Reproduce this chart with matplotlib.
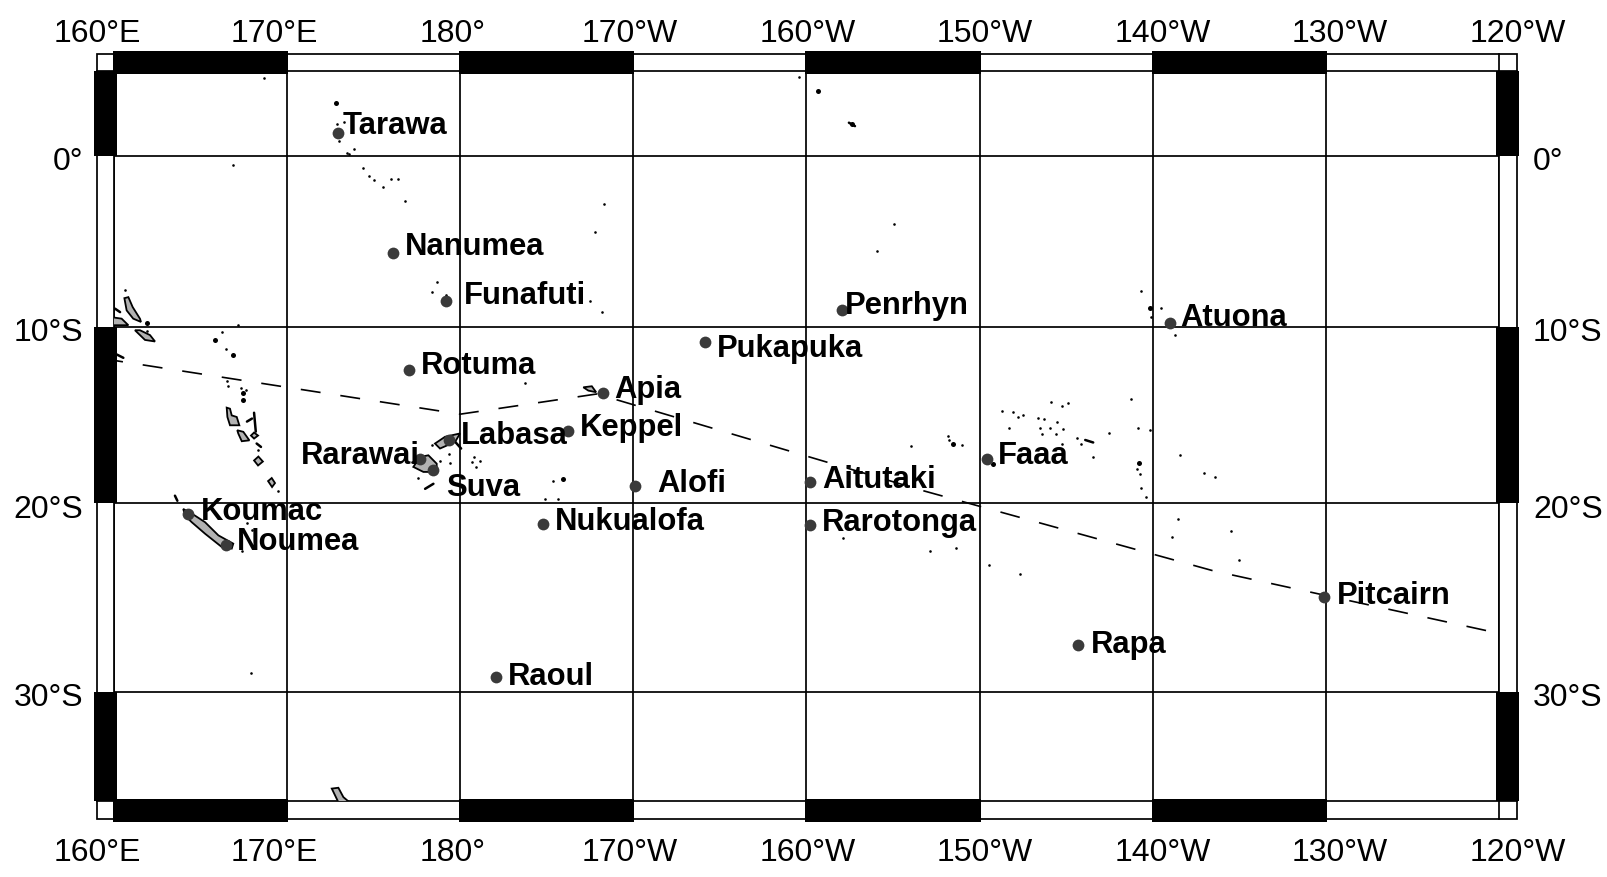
"""Station map of the south-west Pacific on a Mercator grid, GMT fancy frame style."""

import numpy as np
import matplotlib
matplotlib.use("Agg")
import matplotlib.pyplot as plt
from matplotlib.patches import Polygon, Rectangle

plt.rcParams["font.family"] = ["Liberation Sans", "DejaVu Sans"]
plt.rcParams["lines.scale_dashes"] = False

W, H = 1607, 878

# longitudes run 0..360 so the dateline stays in the middle
lon_ticks = [160, 170, 180, 190, 200, 210, 220, 230, 240]
lon_labels = ["160°E", "170°E", "180°", "170°W", "160°W", "150°W", "140°W", "130°W", "120°W"]
lat_ticks = [0, -10, -20, -30]
lat_labels = ["0°", "10°S", "20°S", "30°S"]
lon_min, lon_max = 160, 240
lat_min, lat_max = -35.4, 5.0

stations = ["Tarawa", "Nanumea", "Funafuti", "Rotuma", "Apia", "Keppel", "Labasa",
            "Rarawai", "Suva", "Alofi", "Nukualofa", "Koumac", "Noumea", "Raoul",
            "Penrhyn", "Pukapuka", "Atuona", "Aitutaki", "Rarotonga", "Faaa", "Rapa",
            "Pitcairn"]
station_lon = [172.92, 176.13, 179.20, 177.05, 188.22, 186.20, 179.33, 177.68, 178.43,
               190.08, 184.80, 164.29, 166.45, 182.08, 202.03, 194.15, 220.97, 200.23,
               200.20, 210.40, 215.67, 229.90]
station_lat = [1.35, -5.67, -8.52, -12.50, -13.80, -15.95, -16.47, -17.54, -18.13,
               -19.05, -21.13, -20.56, -22.27, -29.25, -9.00, -10.88, -9.80, -18.83,
               -21.20, -17.55, -27.60, -25.07]

# left end and baseline of each station name, in pixels
label_px = [(343, 134), (405, 255), (464, 304), (421, 374), (614, 398), (580, 436),
            (461, 444), (301, 464), (446, 496), (657, 492), (555, 530), (201, 520),
            (237, 550), (508, 685), (845, 314), (717, 357), (1180, 326), (822, 488),
            (822, 531), (998, 464), (1091, 653), (1337, 604)]

boundary_lon = [160.00, 180.00, 187.90, 206.80, 223.50, 231.34, 239.26]
boundary_lat = [-11.93, -15.00, -13.85, -19.31, -23.67, -25.26, -26.84]

small_lon = [168.68, 166.89, 172.88, 173.27, 173.02, 173.86, 173.44, 173.58, 174.40, 174.71,
             175.00, 175.54, 175.98, 176.42, 176.81, 178.66, 178.35, 179.18, 160.64, 167.18,
             161.92, 166.22, 166.47, 166.51, 166.60, 167.32, 167.63, 168.34, 169.49, 167.67,
             167.95, 169.75, 167.41, 167.91, 179.37, 179.41, 178.83, 180.66, 180.81, 181.14,
             180.91, 177.58, 178.35, 177.20, 183.76, 185.34, 184.88, 185.67, 190.09, 202.08,
             207.11, 208.61, 210.52, 212.31, 188.31, 187.79, 188.21, 205.04, 204.10, 187.50,
             199.57, 220.45, 219.91, 219.33, 221.31, 214.11, 214.78, 215.10, 218.75, 211.32,
             211.92, 212.50, 212.23, 213.36, 213.69, 214.49, 219.12, 219.85, 214.84, 213.50,
             214.06, 211.72, 213.63, 214.42, 217.48, 215.65, 215.87, 214.75, 216.54, 219.08,
             219.26, 221.58, 222.97, 223.60, 219.31, 219.60, 208.20, 208.25, 209.01, 206.04,
             221.43, 221.14, 224.51, 225.01]
small_lat = [4.57, -0.54, 1.87, 1.97, 0.90, 0.42, 0.19, 0.13, -0.69, -1.21,
             -1.42, -1.85, -1.33, -1.38, -2.64, -7.40, -7.98, -8.12, -7.87, -9.90,
             -10.24, -10.28, -11.26, -13.10, -13.38, -13.51, -13.64, -17.04, -19.29, -21.09,
             -21.47, -20.21, -22.60, -29.04, -17.26, -17.75, -17.64, -17.71, -17.41, -17.64,
             -17.97, -18.58, -16.76, -17.69, -13.24, -18.78, -19.76, -19.73, -19.07, -21.87,
             -22.60, -22.45, -23.35, -23.84, -2.85, -4.48, -9.13, -4.02, -5.59, -8.52,
             4.64, -8.88, -9.40, -7.94, -10.48, -14.30, -14.56, -14.35, -14.12, -14.82,
             -14.88, -15.05, -15.16, -15.21, -15.29, -15.42, -15.78, -15.91, -15.82, -15.78,
             -15.80, -15.80, -16.11, -16.14, -16.08, -16.32, -16.66, -16.70, -17.43, -18.11,
             -18.39, -17.30, -18.29, -18.52, -19.12, -19.66, -16.21, -16.48, -16.74, -16.78,
             -20.86, -21.85, -21.52, -23.09]

medium_lon = [161.92, 165.83, 166.86, 167.47, 167.47, 185.96, 200.65, 202.62, 219.85,
              210.78, 219.23, 208.49, 172.82]
medium_lat = [-9.77, -10.75, -11.61, -13.81, -14.22, -18.63, 3.83, 1.87, -8.88,
              -17.78, -17.75, -16.70, 3.08]

# narrow islands, just a thick stroke at this scale
slivers = [
    [(216.10, -16.46), (216.56, -16.60)],
    [(177.97, -19.19), (178.45, -18.91)],
    [(167.68, -15.42), (167.97, -15.25)],
    [(168.09, -14.92), (168.19, -15.99)],
    [(168.24, -16.66), (168.49, -16.85)],
    [(160.16, -11.59), (160.54, -11.78)],
    [(160.06, -8.94), (160.35, -9.14)],
    [(163.52, -19.57), (163.66, -19.85)],
    [(179.64, -16.49), (180.05, -16.94)],
    [(202.45, 1.95), (202.80, 1.75)],
]

islands = [
    [(160.60, -8.33), (160.83, -8.27), (161.08, -8.85), (161.50, -9.52), (161.56, -9.71),
     (161.11, -9.52), (160.73, -9.04)],
    [(159.90, -9.44), (160.44, -9.52), (160.83, -9.90), (160.35, -9.90), (159.90, -9.90)],
    [(161.21, -10.19), (161.50, -10.19), (162.08, -10.47), (162.37, -10.84), (161.79, -10.75),
     (161.50, -10.47)],
    [(166.51, -14.63), (166.70, -14.69), (166.80, -15.07), (167.09, -15.16), (167.24, -15.63),
     (166.70, -15.63), (166.55, -15.16)],
    [(167.12, -15.91), (167.47, -16.00), (167.82, -16.48), (167.38, -16.53), (167.18, -16.10)],
    [(167.91, -16.21), (168.09, -16.04), (168.32, -16.21), (168.09, -16.38)],
    [(168.34, -17.39), (168.60, -17.67), (168.32, -17.89), (168.09, -17.61)],
    [(169.11, -18.59), (169.30, -18.87), (169.13, -19.09), (168.90, -18.76)],
    [(164.00, -20.30), (164.68, -20.67), (165.26, -21.03), (166.03, -21.75), (166.89, -22.20),
     (166.80, -22.47), (166.22, -22.38), (165.26, -21.66), (164.49, -21.03), (164.10, -20.67)],
    [(177.29, -17.97), (177.68, -17.41), (178.16, -17.32), (178.64, -17.79), (178.64, -18.25),
     (177.87, -18.25)],
    [(178.54, -16.66), (179.12, -16.28), (179.99, -16.09), (179.70, -16.57), (178.83, -16.94)],
    [(187.11, -13.47), (187.60, -13.41), (187.85, -13.75), (187.40, -13.66)],
    [(172.58, -34.79), (172.96, -34.75), (173.25, -35.20), (173.82, -35.60), (173.05, -35.60)],
]

ECC = 0.0818


def merc(lat):
    phi = np.radians(np.asarray(lat, dtype=float))
    return np.arctanh(np.sin(phi)) - ECC * np.arctanh(ECC * np.sin(phi))


def merc_inv(y):
    y = np.asarray(y, dtype=float)
    phi = np.arcsin(np.tanh(y))
    for _ in range(4):
        phi = np.arcsin(np.tanh(y + ECC * np.arctanh(ECC * np.sin(phi))))
    return np.degrees(phi)


fig = plt.figure(figsize=(W / 100, H / 100), dpi=100)
ax = fig.add_axes([114 / W, 1 - 802.3 / H, 1385 / W, 730.6 / H])
ax.set_yscale("function", functions=(merc, merc_inv))
ax.set_xlim(lon_min, lon_max)
ax.set_ylim(lat_min, lat_max)
ax.set_xticks(lon_ticks)
ax.set_yticks(lat_ticks)
ax.minorticks_off()
ax.tick_params(length=0, labelbottom=False, labelleft=False)
ax.grid(True, color="black", lw=1.25)
ax.set_axisbelow(True)
for s in ax.spines.values():
    s.set_visible(False)

# frame: inner lines run out to the outer box, which sits 17 px further out
xo0, xo1 = -17 / 1385, 1 + 18 / 1385
yo0, yo1 = -17.4 / 730.6, 1 + 16.7 / 730.6
frame = dict(transform=ax.transAxes, color="black", lw=1.25, clip_on=False, zorder=1)
for x in (0, 1):
    ax.plot([x, x], [yo0, yo1], **frame)
for y in (0, 1):
    ax.plot([xo0, xo1], [y, y], **frame)
ax.add_patch(Rectangle((xo0, yo0), xo1 - xo0, yo1 - yo0, transform=ax.transAxes, fill=False,
                       ec="black", lw=1.25, clip_on=False, zorder=1))

# alternating black bars straddle the frame
xt = ax.get_xaxis_transform()
yt = ax.get_yaxis_transform()
for lon0 in lon_ticks[:-1:2]:
    for y0, y1 in ((0.9959, 1.0270), (-0.0279, 0.0031)):
        ax.add_patch(Rectangle((lon0 - 0.06, y0), 10.12, y1 - y0, transform=xt, fc="black",
                               ec="none", clip_on=False, zorder=6))
lat_edges = [lat_max, 0, -10, -20, -30, lat_min]
for top, bot in zip(lat_edges[0::2], lat_edges[1::2]):
    for x0, x1 in ((-0.01444, 0.00217), (0.99783, 1.01444)):
        ax.add_patch(Rectangle((x0, bot), x1 - x0, top - bot, transform=yt, fc="black",
                               ec="none", clip_on=False, zorder=6))

# coast
for pts in islands:
    ax.add_patch(Polygon(pts, closed=True, fc="#b2b2b2", ec="black", lw=1.3, zorder=2))
for seg in slivers:
    xs, ys = zip(*seg)
    ax.plot(xs, ys, color="black", lw=1.8, solid_capstyle="round", zorder=2)
ax.scatter(small_lon, small_lat, s=3.5, color="black", lw=0, zorder=2)
ax.scatter(medium_lon, medium_lat, s=13, color="black", lw=0, zorder=2)

ax.plot(boundary_lon, boundary_lat, color="black", lw=1.2, zorder=3,
        linestyle=(7.9, (14.4, 14.4)), dash_capstyle="butt")

ax.scatter(station_lon, station_lat, s=72, color="#3a3a3a", lw=0, zorder=4)
for name, (px, py) in zip(stations, label_px):
    fig.text(px / W, 1 - py / H, name, fontsize=22.3, fontweight="bold", color="black",
             ha="left", va="baseline", zorder=5)

# the degree labels are spaced along the outer box, not along the grid
for i, lab in enumerate(lon_labels):
    cx = 97 + i * (1517.6 - 97) / 8
    fig.text(cx / W, 1 - 41.7 / H, lab, fontsize=23, ha="center", va="baseline")
    fig.text(cx / W, 1 - 860.7 / H, lab, fontsize=23, ha="center", va="baseline")
for lat, lab in zip(lat_ticks, lat_labels):
    px, py = ax.transData.transform((lon_min, lat))
    base = H - py + 13.5
    fig.text(83 / W, 1 - base / H, lab, fontsize=23, ha="right", va="baseline")
    fig.text(1533 / W, 1 - base / H, lab, fontsize=23, ha="left", va="baseline")

fig.savefig("out.png", dpi=100, facecolor="white")
plt.close(fig)
